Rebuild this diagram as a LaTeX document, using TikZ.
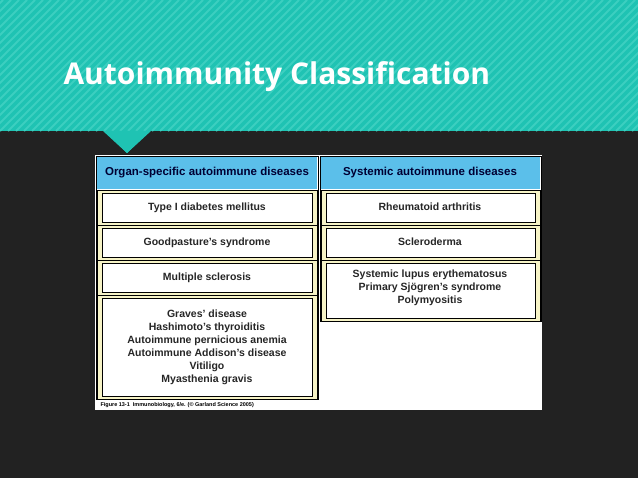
\documentclass[tikz,border=0pt]{standalone}
\usepackage{fontspec}
\setmainfont{Liberation Sans}
\newfontfamily\titlefont{Open Sans}
\usetikzlibrary{patterns}
\definecolor{teal1}{HTML}{1FC3B3}
\definecolor{teal2}{HTML}{3CCFC0}
\definecolor{dark}{HTML}{222222}
\definecolor{hdr}{HTML}{5BBFEA}
\definecolor{cream}{HTML}{F6F3C6}
\tikzset{
  cell/.style={fill=cream,draw=black,line width=0.6pt},
  inner/.style={fill=white,draw=black,line width=0.9pt},
  txt/.style={font=\bfseries\fontsize{10.5}{13}\selectfont,align=center,text=black!85},
  htxt/.style={font=\bfseries\fontsize{11.5}{13}\selectfont,text=black!80!blue},
}
\begin{document}
\begin{tikzpicture}[x=1pt,y=-1pt]
\useasboundingbox (0,0) rectangle (638,478);
\fill[dark] (0,0) rectangle (638,478);
\fill[teal1] (0,0) rectangle (638,131);
\fill[teal1] (103,130) -- (127,153) -- (151,130) -- cycle;
\foreach \i in {-160,-152,...,640}{
  \draw[teal2,line width=2pt] (\i,131) -- (\i+131,0);
}
\fill[teal1] (103,131) -- (127,153) -- (151,131) -- cycle;
\node[font=\titlefont\bfseries\fontsize{30}{34}\selectfont,text=white,anchor=west] (title) at (60,77) {Autoimmunity Classification};
% panel
\fill[white] (95,155) rectangle (542,410);
\draw[black,line width=0.6pt] (96,156) rectangle (318,399);
\draw[black,line width=0.6pt] (320,156) rectangle (541,321);
\fill[hdr] (97,157) rectangle (317,189);
\fill[hdr] (321,157) rectangle (540,189);
\node[htxt] (h1) at (207,173) {Organ-specific autoimmune diseases};
\node[htxt] (h2) at (430,173) {Systemic autoimmune diseases};
% left cells
\foreach \a/\b/\n/\t in {190/225/l1/{Type I diabetes mellitus},225/260/l2/{Goodpasture's syndrome},260/295/l3/{Multiple sclerosis},295/399/l4/{Graves' disease\\Hashimoto's thyroiditis\\Autoimmune pernicious anemia\\Autoimmune Addison's disease\\Vitiligo\\Myasthenia gravis}}{
  \draw[cell] (97,\a) rectangle (317,\b);
  \draw[inner] (102,\a+3) rectangle (312,\b-3);
  \node[txt] (\n) at (207,{(\a+\b)/2}) {\t};
}
\foreach \a/\b/\n/\t in {190/225/r1/{Rheumatoid arthritis},225/260/r2/{Scleroderma},260/321/r3/{Systemic lupus erythematosus\\Primary Sjögren's syndrome\\Polymyositis}}{
  \draw[cell] (321,\a) rectangle (540,\b);
  \draw[inner] (326,\a+3) rectangle (535,\b-3);
}
\node[txt] (r1) at (430,207) {Rheumatoid arthritis};
\node[txt] (r2) at (430,242) {Scleroderma};
\node[txt,anchor=north] (r3) at (430,266) {Systemic lupus erythematosus\\Primary Sjögren's syndrome\\Polymyositis};
\node[font=\bfseries\fontsize{5.5}{6}\selectfont,anchor=west] (cap) at (97,405) {Figure 13-1 \ Immunobiology, 6/e. (© Garland Science 2005)};
\end{tikzpicture}
\end{document}
